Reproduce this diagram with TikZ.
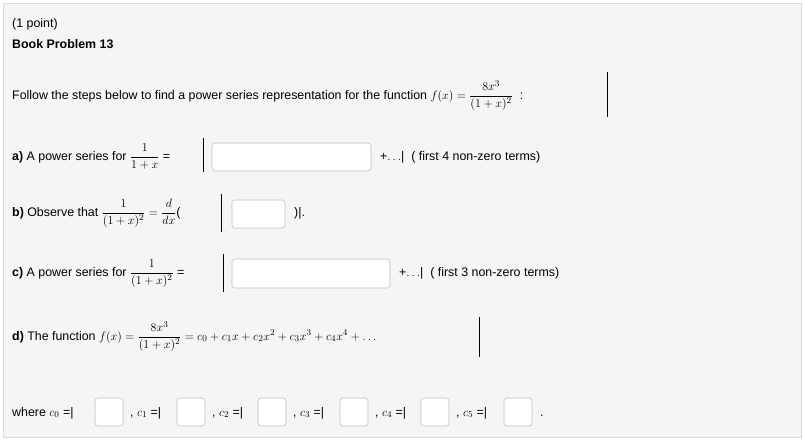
\documentclass[tikz,border=0pt]{standalone}
\usepackage{amsmath}
\usepackage{fontspec}
\setmainfont{Liberation Sans}
\begin{document}
\begin{tikzpicture}[x=1pt,y=-1pt,
  txt/.style={anchor=base west,inner sep=0pt,font=\fontsize{12.4}{14}\selectfont},
  ansbox/.style={draw=black!25,fill=white,rounded corners=3pt,line width=0.6pt},
  cur/.style={line width=0.8pt}]
\useasboundingbox (0,0) rectangle (804,440);
\fill[black!4] (3,3) rectangle (801,437);
\draw[black!15] (3,3) rectangle (801,437);
\node[txt] (pt) at (12,27) {(1 point)};
\node[txt] (bp) at (12,48) {\textbf{Book Problem 13}};
% Follow
\node[txt] (fol) at (12,99) {Follow the steps below to find a power series representation for the function $f(x)=\dfrac{8x^3}{(1+x)^2}$ \ :};
\draw[cur] (607,72) -- (607,117);
% a
\node[txt] (a) at (12,160) {\textbf{a)} A power series for $\dfrac{1}{1+x}$ =};
\draw[cur] (203,138) -- (203,172);
\draw[ansbox] (212,143) rectangle (371,171);
\node[txt] (ad) at (380,160) {+$\ldots$|\ \ ( first 4 non-zero terms)};
% b
\node[txt] (b) at (12,216) {\textbf{b)} Observe that $\dfrac{1}{(1+x)^2}=\dfrac{d}{dx}$(};
\draw[cur] (221,194) -- (221,232);
\draw[ansbox] (232,200) rectangle (285,228);
\node[txt] (bd) at (294,216) {)|.};
% c
\node[txt] (c) at (12,276) {\textbf{c)} A power series for $\dfrac{1}{(1+x)^2}$ =};
\draw[cur] (223,254) -- (223,292);
\draw[ansbox] (232,259) rectangle (390,288);
\node[txt] (cd) at (399,276) {+$\ldots$|\ \ ( first 3 non-zero terms)};
% d
\node[txt] (d) at (12,340) {\textbf{d)} The function $f(x)=\dfrac{8x^3}{(1+x)^2}=c_0+c_1x+c_2x^2+c_3x^3+c_4x^4+\ldots$};
\draw[cur] (479,317) -- (479,357);
% where
\node[txt] (w) at (12,416) {where $c_0$ =|};
\foreach \x in {95,177,258,340,421,504}{
  \draw[ansbox] (\x,398) rectangle ++(28,28);
}
\node[txt] (w1) at (130,416) {, $c_1$ =|};
\node[txt] (w2) at (212,416) {, $c_2$ =|};
\node[txt] (w3) at (293,416) {, $c_3$ =|};
\node[txt] (w4) at (375,416) {, $c_4$ =|};
\node[txt] (w5) at (456,416) {, $c_5$ =|};
\node[txt] (w6) at (540,416) {.};
\end{tikzpicture}
\end{document}
